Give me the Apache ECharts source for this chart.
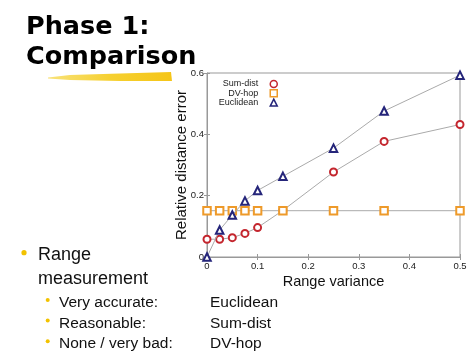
<!DOCTYPE html>
<html><head><meta charset="utf-8">
<script src="https://cdn.jsdelivr.net/npm/echarts@6/dist/echarts.min.js"></script>
<style>html,body{margin:0;padding:0;background:#fff}#c{width:474px;height:355px}</style>
</head><body><div id="c"></div>
<script>
const xValues = [0, 0.025, 0.05, 0.075, 0.1, 0.15, 0.25, 0.35, 0.5];
const sumDist = [0.058, 0.058, 0.063, 0.077, 0.096, 0.152, 0.277, 0.377, 0.432];
const dvHop = [0.151, 0.151, 0.151, 0.151, 0.151, 0.151, 0.151, 0.151, 0.151];
const euclidean = [0, 0.088, 0.137, 0.183, 0.217, 0.263, 0.355, 0.476, 0.593];
const seriesNames = ['Sum-dist', 'DV-hop', 'Euclidean'];
const bulletLines = [['Very accurate:', 'Euclidean'], ['Reasonable:', 'Sum-dist'], ['None / very bad:', 'DV-hop']];

const chart = echarts.init(document.getElementById('c'));
const pair = (ys) => xValues.map((x, i) => [x, ys[i]]);
const colors = ['#c4262e', '#ee9a2a', '#25257a'];
const symbols = ['emptyCircle', 'emptyRect', 'emptyTriangle'];
const legendIcons = ['circle', 'rect', 'triangle'];
const sizes = [7, 7.5, 7.5];
const datas = [sumDist, dvHop, euclidean];
const font = 'Liberation Sans, Arial, Helvetica, sans-serif';

const graphics = [
  {type:'polygon', shape:{points:[[48,77.5],[70,75],[120,73.5],[171,72],[172,81],[120,81],[70,80],[48,78.5]]},
   style:{fill:new echarts.graphic.LinearGradient(0,0,1,0,[{offset:0,color:'#f8e27a'},{offset:0.5,color:'#f6d030'},{offset:1,color:'#f5c518'}])}},
  {type:'text', left:26, top:14, style:{text:'Phase 1:', font:'bold 25.5px "DejaVu Sans"', fill:'#000'}},
  {type:'text', left:26, top:44, style:{text:'Comparison', font:'bold 25.5px "DejaVu Sans"', fill:'#000'}},
  {type:'circle', shape:{cx:24, cy:252.7, r:2.6}, style:{fill:'#f2c200'}},
  {type:'text', left:38, top:246.5, style:{text:'Range', font:'18px ' + font, fill:'#111'}},
  {type:'text', left:38, top:270.5, style:{text:'measurement', font:'18px ' + font, fill:'#111'}}
];
bulletLines.forEach((b, i) => {
  const y = 300 + i * 20.6;
  graphics.push({type:'circle', shape:{cx:47.7, cy:y, r:2}, style:{fill:'#f2c200'}});
  graphics.push({type:'text', left:59, top:y - 5, style:{text:b[0], font:'15.5px ' + font, fill:'#111'}});
  graphics.push({type:'text', left:210, top:y - 5, style:{text:b[1], font:'15.5px ' + font, fill:'#111'}});
});

const hiddenAxis = {type:'value', axisLine:{show:false}, axisLabel:{show:false}, splitLine:{show:false},
  axisTick:{inside:true, length:3, lineStyle:{color:'#999'}}};

chart.setOption({
  animation:false,
  grid:{left:207, right:14, top:73, bottom:98, show:true, borderColor:'#999', borderWidth:1},
  legend:{
    orient:'vertical', align:'right', right:196, top:79.5, padding:0, itemGap:0.3, itemWidth:7, itemHeight:7,
    textStyle:{fontSize:9, lineHeight:8, fontFamily:font, color:'#222', padding:[0, 7, 0, 0]},
    data: seriesNames.map((n, i) => ({name:n, icon:legendIcons[i],
      itemStyle:{color:'transparent', borderColor:colors[i], borderWidth:1.5}}))
  },
  xAxis:[{type:'value', min:0, max:0.5, interval:0.1,
    name:'Range variance', nameLocation:'middle', nameGap:17, nameMoveOverlap:false,
    nameTextStyle:{fontSize:14.5, fontFamily:font, color:'#111'},
    axisLine:{lineStyle:{color:'#999'}}, axisTick:{inside:true, length:3, lineStyle:{color:'#999'}},
    axisLabel:{fontSize:9.5, fontFamily:font, color:'#222', margin:4, formatter:v=>String(+v.toFixed(1))},
    splitLine:{show:false}},
    Object.assign({position:'top', min:0, max:0.5, interval:0.1}, hiddenAxis)],
  yAxis:[{type:'value', min:0, max:0.6, interval:0.2,
    name:'Relative distance error', nameLocation:'middle', nameGap:18, nameMoveOverlap:false,
    nameTextStyle:{fontSize:15, fontFamily:font, color:'#111'},
    axisLine:{lineStyle:{color:'#999'}}, axisTick:{inside:true, length:3, lineStyle:{color:'#999'}},
    axisLabel:{fontSize:9.5, fontFamily:font, color:'#222', margin:3, formatter:v=>String(+v.toFixed(1))},
    splitLine:{show:false}},
    Object.assign({position:'right', min:0, max:0.6, interval:0.2}, hiddenAxis)],
  series: seriesNames.map((n, i) => ({
    name:n, type:'line', data:pair(datas[i]), symbol:symbols[i], symbolSize:sizes[i],
    lineStyle:{color:'#aaa', width:1}, itemStyle:{color:colors[i], borderWidth:1.5},
    z: 2 + i
  })),
  graphic: graphics
});
</script></body></html>
